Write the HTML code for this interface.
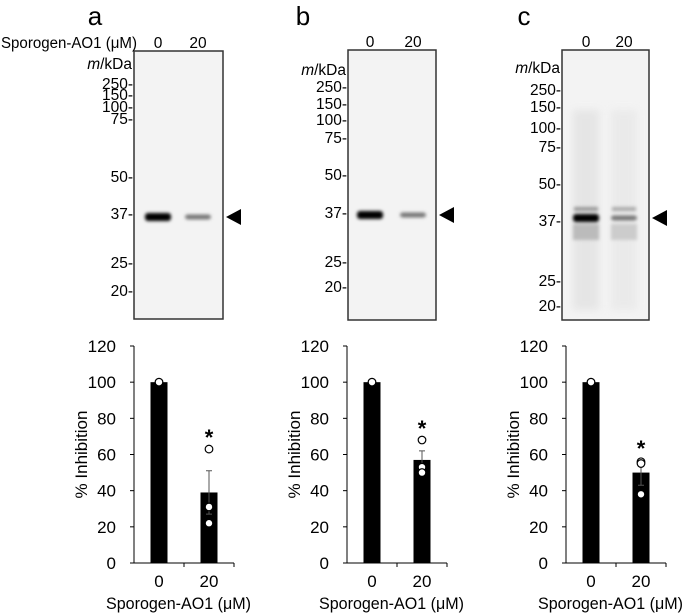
<!DOCTYPE html>
<html><head><meta charset="utf-8"><style>
html,body{margin:0;padding:0;background:#fff;}
svg{display:block;font-family:"Liberation Sans",Arial,sans-serif;}
</style></head><body>
<svg id="fig" width="685" height="613" viewBox="0 0 685 613" xmlns="http://www.w3.org/2000/svg">
<defs>
<filter id="blur1" x="-50%" y="-200%" width="200%" height="500%"><feGaussianBlur stdDeviation="1.6"/></filter>
<filter id="blur3" x="-50%" y="-50%" width="200%" height="200%"><feGaussianBlur stdDeviation="4"/></filter>
</defs>
<g font-size="26">
<text x="95" y="25" text-anchor="middle">a</text>
<text x="303" y="25" text-anchor="middle">b</text>
<text x="524" y="25" text-anchor="middle">c</text>
</g>
<g id="blots"></g>
<g id="charts"></g>
</svg>
<script>
const NS='http://www.w3.org/2000/svg';
function mk(tag,attrs,parent,txt){const e=document.createElementNS(NS,tag);for(const k in attrs)e.setAttribute(k,attrs[k]);if(txt!==undefined)e.textContent=txt;parent.appendChild(e);return e;}

// ---- Chart data ----
const categories=['0','20'];
const meansA=[100,39];
const meansB=[100,57];
const meansC=[100,50];
const errA=[0,12];
const errB=[0,5];
const errC=[0,7];
const pointsA=[[100],[63,31,22]];
const pointsB=[[100],[68,53,50]];
const pointsC=[[100],[56,55,38]];
const yTicks=[0,20,40,60,80,100,120];

// ---- Blot marker data ----
const markerLabels=['250','150','100','75','50','37','25','20'];

const blots=[
 {name:'a',x:134,y:51,w:89,h:268,lanes:[158,198],bandY:217,band:[1,0.3],marks:[83,94,106,118,176,213,262,290],mkY:63,smear:false,header:true},
 {name:'b',x:348,y:50,w:88,h:270,lanes:[370,413],bandY:215,band:[1,0.55],marks:[86,103,119,137,174,212,261,286],mkY:69,smear:false},
 {name:'c',x:562,y:50,w:87,h:270,lanes:[586,624],bandY:218,band:[1,0.55],marks:[89,106,127,146,183,220,280,305],mkY:67,smear:true}
];
const G=document.getElementById('blots');
blots.forEach(b=>{
 const g=mk('g',{},G);
 
 
 mk('rect',{x:b.x,y:b.y,width:b.w,height:b.h,fill:'#f3f3f3',stroke:'#333','stroke-width':1.5},g);
 if(b.smear){
  b.lanes.forEach((lx,i)=>{mk('rect',{x:lx-13,y:b.y+60,width:26,height:200,fill:i?'#e8e8e8':'#e2e2e2',filter:'url(#blur3)',opacity:0.8},g);
   mk('rect',{x:lx-13,y:b.bandY+6,width:26,height:16,fill:i?'#ccc':'#bbb',filter:'url(#blur1)'},g);
   mk('rect',{x:lx-12,y:b.bandY-11,width:24,height:4,fill:i?'#aaa':'#999',filter:'url(#blur1)'},g);});
 }
 b.lanes.forEach((lx,i)=>{
  const s=b.band[i];
  const band=mk('rect',{x:lx-13,y:b.bandY-(s>0.9?4:2.5),width:26,height:s>0.9?8:5,rx:3,fill:s>0.9?'#000':'#777',filter:'url(#blur1)'},g);
  
  
 });
 const lab=mk('text',{x:b.x-2,y:b.mkY+6,'text-anchor':'end','font-size':15.5},g);
 mk('tspan',{'font-style':'italic'},lab,'m');mk('tspan',{},lab,'/kDa');
 
 
 markerLabels.forEach((m,i)=>{
  const t=mk('text',{x:b.x-1,y:b.marks[i]+6,'text-anchor':'end','font-size':15.5},g,m+'-');
  
  
 });
 const arr=mk('polygon',{points:(b.x+b.w+3)+','+b.bandY+' '+(b.x+b.w+18)+','+(b.bandY-8)+' '+(b.x+b.w+18)+','+(b.bandY+8),fill:'#000'},g);
 
 
 categories.forEach((c,i)=>{
  const t=mk('text',{x:b.lanes[i],y:b.y-3,'text-anchor':'middle','font-size':15.5},g,c);
  
  
 });
 if(b.header){
  const t=mk('text',{x:1,y:b.y-3,'font-size':15.5,textLength:136,lengthAdjust:'spacingAndGlyphs'},g,'Sporogen-AO1 (μM)');
  
  
 }
});

// ---- Charts ----
const charts=[
 {name:'a',ax:134,means:meansA,err:errA,pts:pointsA},
 {name:'b',ax:347,means:meansB,err:errB,pts:pointsB},
 {name:'c',ax:566,means:meansC,err:errC,pts:pointsC}
];
const y0=563,yTop=346,yMax=120;
function yS(v){return y0-(v/yMax)*(y0-yTop);}
const C=document.getElementById('charts');
charts.forEach(ch=>{
 const g=mk('g',{},C);
 
 
 const ax=ch.ax,w=100;
 function xS(i){return ax+25+i*50;}
 mk('line',{x1:ax,y1:yTop,x2:ax,y2:y0,stroke:'#000','stroke-width':1},g);
 mk('line',{x1:ax-4,y1:y0,x2:ax+w,y2:y0,stroke:'#000','stroke-width':1},g);
 [ax+w/2,ax+w].forEach(tx=>mk('line',{x1:tx,y1:y0,x2:tx,y2:y0+4,stroke:'#000'},g));
 yTicks.forEach(v=>{
  mk('line',{x1:ax-4,y1:yS(v),x2:ax,y2:yS(v),stroke:'#000'},g);
  const t=mk('text',{x:ax-18,y:yS(v)+6,'text-anchor':'end','font-size':17},g,String(v));
  
  
 });
 const yt=mk('text',{x:0,y:0,'text-anchor':'middle','font-size':17,transform:'translate('+(ax-47)+','+yS(60)+') rotate(-90)'},g,'% Inhibition');
 
 
 const xt=mk('text',{x:ax-28,y:609,'font-size':17,textLength:145,lengthAdjust:'spacingAndGlyphs'},g,'Sporogen-AO1 (μM)');
 
 
 categories.forEach((c,i)=>{
  const cx=xS(i);
  const t=mk('text',{x:cx,y:587,'text-anchor':'middle','font-size':17},g,c);
  
  
  const bar=mk('rect',{x:cx-8.5,y:yS(ch.means[i]),width:17,height:y0-yS(ch.means[i]),fill:'#000'},g);
  
  
  if(ch.err[i]>0){
   const eb=mk('path',{d:'M'+cx+','+yS(ch.means[i]-ch.err[i])+'V'+yS(ch.means[i]+ch.err[i])+'M'+(cx-3)+','+yS(ch.means[i]+ch.err[i])+'H'+(cx+3)+'M'+(cx-3)+','+yS(ch.means[i]-ch.err[i])+'H'+(cx+3),stroke:'#555','stroke-width':1,fill:'none'},g);
   
   
  }
  ch.pts[i].forEach(p=>{
   const d=mk('circle',{cx:cx,cy:yS(p),r:3.8,fill:'#fff',stroke:'#000','stroke-width':1.2},g);
   
   
  });
  if(i===1){
   const top=Math.max(...ch.pts[i],ch.means[i]+ch.err[i]);
   const s=mk('text',{x:cx,y:yS(top)-4,'text-anchor':'middle','font-size':22,'font-weight':'bold'},g,'*');
   
   
  }
 });
});
</script>
</body></html>
